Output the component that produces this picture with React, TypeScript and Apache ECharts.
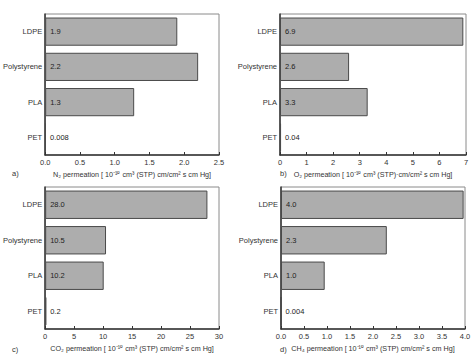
import React, { useEffect, useRef } from "react";
import * as echarts from "echarts";

const categories = ["LDPE", "Polystyrene", "PLA", "PET"];

const n2Values = [1.9, 2.2, 1.28, 0.008];
const n2Labels = ["1.9", "2.2", "1.3", "0.008"];
const o2Values = [6.9, 2.6, 3.3, 0.04];
const o2Labels = ["6.9", "2.6", "3.3", "0.04"];
const co2Values = [28.0, 10.5, 10.1, 0.2];
const co2Labels = ["28.0", "10.5", "10.2", "0.2"];
const ch4Values = [3.97, 2.3, 0.95, 0.004];
const ch4Labels = ["4.0", "2.3", "1.0", "0.004"];

const axisMax = [2.5, 7, 30, 4];
const axisInterval = [0.5, 1, 5, 0.5];
const axisDecimals = [1, 0, 0, 1];
const axisTitles = [
  "N\u2082 permeation [ 10\u207B\u00B9\u2070 cm\u00B3 (STP) cm/cm\u00B2 s cm Hg]",
  "O\u2082 permeation [ 10\u207B\u00B9\u2070 cm\u00B3 (STP)\u00B7cm/cm\u00B2 s cm Hg]",
  "CO\u2082 permeation [ 10\u207B\u00B9\u2070 cm\u00B3 (STP) cm/cm\u00B2 s cm Hg]",
  "CH\u2084 permeation [ 10\u207B\u00B9\u2070 cm\u00B3 (STP) cm/cm\u00B2 s cm Hg]",
];
const panelLetters = ["a)", "b)", "c)", "d)"];

export default function App() {
  const ref = useRef<HTMLDivElement>(null);
  useEffect(() => {
    if (!ref.current) return;
    const chart = echarts.init(ref.current, undefined, { renderer: "svg" });
    const font = "'Liberation Sans', Arial, sans-serif";
    const grids = [
      { left: 40, top: 14, width: 179, height: 141 },
      { left: 280, top: 14, width: 186, height: 141 },
      { left: 40, top: 187, width: 179, height: 142 },
      { left: 281, top: 187, width: 184, height: 142 },
    ];
    const valuesList = [n2Values, o2Values, co2Values, ch4Values];
    const labelsList = [n2Labels, o2Labels, co2Labels, ch4Labels];
    const letterPos = [
      [12, 173],
      [280, 173],
      [12, 349],
      [280, 349],
    ];
    chart.setOption({
      animation: false,
      backgroundColor: "#ffffff",
      textStyle: { fontFamily: font },
      grid: grids.map((g) => ({
        ...g,
        show: true,
        borderColor: "#8a8a8a",
        borderWidth: 1,
        backgroundColor: "transparent",
      })),
      xAxis: grids.map((_, i) => ({
        type: "value",
        gridIndex: i,
        min: 0,
        max: axisMax[i],
        interval: axisInterval[i],
        splitLine: { show: false },
        axisLine: { show: true, lineStyle: { color: "#333", width: 1.5 } },
        axisTick: { show: true, inside: true, length: 3, lineStyle: { color: "#333" } },
        axisLabel: {
          color: "#333",
          fontSize: 7.5,
          margin: 3,
          fontFamily: font,
          formatter: (v: number) => v.toFixed(axisDecimals[i]),
        },
        name: axisTitles[i],
        nameLocation: "middle",
        nameGap: 16,
        nameTextStyle: { color: "#333", fontSize: 7.2, fontFamily: font },
      })),
      yAxis: grids.map((_, i) => ({
        type: "category",
        gridIndex: i,
        data: categories,
        inverse: true,
        axisLine: { show: true, lineStyle: { color: "#333", width: 1.5 } },
        axisTick: { show: false },
        axisLabel: { color: "#333", fontSize: 7.5, margin: 3, fontFamily: font },
      })),
      series: grids.map((_, i) => ({
        type: "bar",
        xAxisIndex: i,
        yAxisIndex: i,
        data: valuesList[i],
        barCategoryGap: "20%",
        itemStyle: { color: "#adadad", borderColor: "#4a4a4a", borderWidth: 1 },
        label: {
          show: true,
          position: "insideLeft",
          distance: 5,
          color: "#222",
          fontSize: 7.5,
          fontFamily: font,
          formatter: (p: any) => labelsList[i][p.dataIndex],
        },
      })),
      graphic: panelLetters.map((t, i) => ({
        type: "text",
        x: letterPos[i][0],
        y: letterPos[i][1],
        style: {
          text: t,
          fill: "#333",
          fontSize: 7.5,
          fontFamily: font,
          verticalAlign: "middle",
        },
      })),
    });
    return () => chart.dispose();
  }, []);
  return (
    <div
      ref={ref}
      style={{ position: "fixed", left: 0, top: 0, width: 474, height: 362 }}
    />
  );
}
